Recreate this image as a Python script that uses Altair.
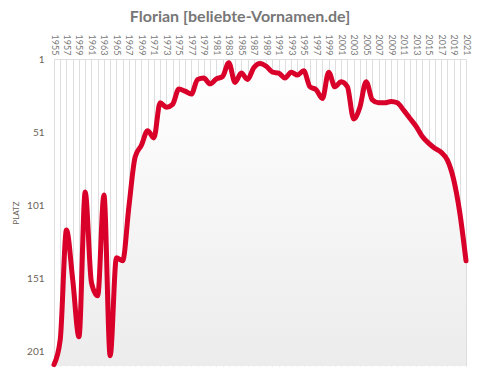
import altair as alt
import pandas as pd

years = list(range(1955, 2022))
ranks = [210, 193, 118, 152, 191, 92, 154, 163, 94, 204,
         137, 139, 102, 68, 60, 50, 55, 31, 34, 32,
         21.5, 23, 25, 15, 14, 18, 14.7, 13, 3.5, 17,
         10.6, 15, 7, 4, 6, 10, 10.7, 14, 10, 12,
         9, 20, 22, 28, 10, 20, 16.5, 20, 42, 34,
         16.5, 29, 31, 31, 30, 31, 36, 41.5, 47, 54,
         58.5, 62, 64.7, 70, 83, 106, 139]
tick_ranks = [1, 51, 101, 151, 201]
title_text = "Florian [beliebte-Vornamen.de]"

df = pd.DataFrame({"Jahr": years, "Platz": ranks})

FONT = "Lato"

x_enc = alt.X(
    "Jahr:Q",
    scale=alt.Scale(domain=[1955, 2021], nice=False, zero=False),
    axis=alt.Axis(
        orient="top", values=years, format="d", labelAngle=90,
        labelExpr="datum.value % 2 == 1 ? datum.label : ''",
        labelOverlap=False, labelFontSize=9, labelColor="#7a7a7a",
        labelFont=FONT, labelPadding=4, ticks=False,
        grid=True, gridColor="#dedede", gridWidth=1,
        domainColor="#dddddd", title=None, labelBound=False,
    ),
)
y_scale = alt.Scale(domain=[1, 211], reverse=True, nice=False, zero=False)
y_enc = alt.Y(
    "Platz:Q", scale=y_scale,
    axis=alt.Axis(
        values=tick_ranks, grid=False, domain=False, ticks=False,
        labelFontSize=10, labelColor="#6b6357", labelFont=FONT,
        labelPadding=10, title="PLATZ", titleFontSize=8,
        titleFont=FONT, titleFontWeight="normal", titleColor="#6b6357",
        titlePadding=6,
    ),
)

base = alt.Chart(df).encode(x=x_enc, y=y_enc)

area = base.mark_area(
    interpolate="monotone",
    fill=alt.Gradient(
        gradient="linear", x1=0, y1=0, x2=0, y2=1,
        stops=[alt.GradientStop(color="#ffffff", offset=0),
               alt.GradientStop(color="#ececec", offset=1)],
    ),
).encode(y2=alt.datum(211))

line = base.mark_line(
    interpolate="monotone", color="#d9002a", strokeWidth=5,
    strokeCap="round", strokeJoin="round",
)

chart = (area + line).properties(
    width=412, height=307,
    title=alt.TitleParams(
        title_text, fontSize=16, font=FONT, fontWeight="bold",
        color="#777777", anchor="middle", frame="group", dx=-20, offset=9,
    ),
    autosize=alt.AutoSizeParams(type="none"),
    padding={"left": 54, "top": 59, "right": 14, "bottom": 11},
).configure_view(stroke=None)

chart.save("out.html", embed_options={"renderer": "svg", "actions": False})
